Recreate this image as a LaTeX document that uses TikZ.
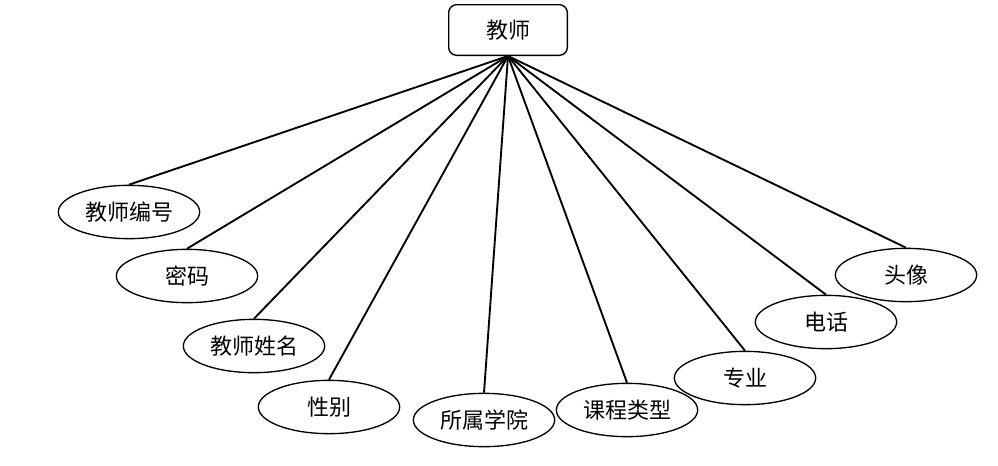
\documentclass[tikz,border=0pt]{standalone}
\usepackage{fontspec}
\newfontfamily\cjk{Noto Sans CJK SC}
\usetikzlibrary{shapes.geometric, positioning}

\begin{document}
\begin{tikzpicture}[
        x=0.75pt, y=-0.75pt,
        entity/.style={rectangle, draw, rounded corners=6pt, line width=1pt, minimum width=89pt, minimum height=38pt, align=center, font=\cjk\fontsize{16.5}{19}\selectfont},
        attr/.style={ellipse, draw, line width=1pt, minimum width=106pt, minimum height=40pt, inner sep=0pt, align=center, font=\cjk\fontsize{16.5}{19}\selectfont},
        link/.style={line width=1.4pt}
    ]
    \useasboundingbox (0,0) rectangle (998,465);

    % Entity
    \node[entity] (teacher) at (508,30) {教师};

    % Attributes
    \node[attr] (tid) at (129,212) {教师编号};
    \node[attr] (pwd) at (187,276) {密码};
    \node[attr] (tname) at (254,346) {教师姓名};
    \node[attr] (sex) at (329,407) {性别};
    \node[attr] (college) at (484,420) {所属学院};
    \node[attr] (course) at (627,410) {课程类型};
    \node[attr] (major) at (745,378) {专业};
    \node[attr] (phone) at (826,322) {电话};
    \node[attr] (avatar) at (906,275) {头像};

    % Links
    \foreach \a in {tid, pwd, tname, sex, college, course, major, phone, avatar}
        \draw[link] (teacher.south) -- (\a.north);

\end{tikzpicture}
\end{document}
